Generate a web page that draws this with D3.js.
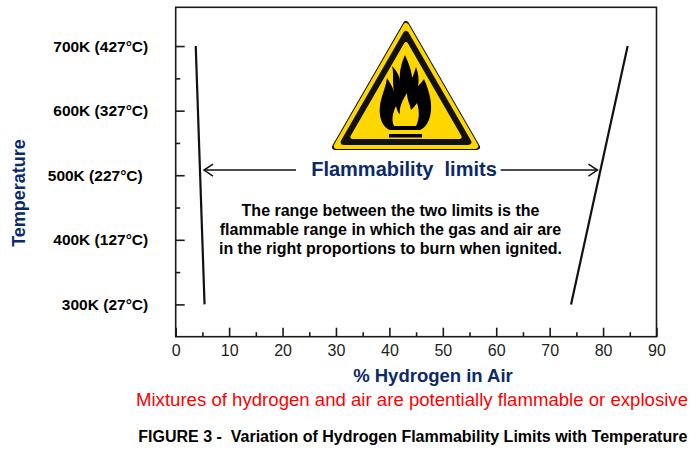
<!DOCTYPE html>
<html>
<head>
<meta charset="utf-8">
<script src="https://cdn.jsdelivr.net/npm/d3@7/dist/d3.min.js"></script>
<style>
  html, body { margin: 0; padding: 0; background: #fff; }
  svg { display: block; font-family: "Liberation Sans", Arial, sans-serif; }
</style>
</head>
<body>
<svg id="chart" width="700" height="472"></svg>
<script>
// ---- data ----
const tempsK = [300, 700];
const lowerLimitPct = [5.4, 3.75];
const upperLimitPct = [74.0, 84.6];
const xTickValues = [0, 10, 20, 30, 40, 50, 60, 70, 80, 90];
const xMinorTickValues = [5, 15, 25, 35, 45, 55, 65, 75, 85];
const yTickValues = [300, 400, 500, 600, 700];
const yMinorTickValues = [350, 450, 550, 650];
const yTickLabels = ["300K (27°C)", "400K (127°C)", "500K (227°C)", "600K (327°C)", "700K (427°C)"];
const arrowTempK = 508;
const titleText = "Flammability\u00A0\u00A0limits";
const noteLines = [
  "The range between the two limits is the",
  "flammable range in which the gas and air are",
  "in the right proportions to burn when ignited."
];
const xAxisTitle = "% Hydrogen in Air";
const yAxisTitle = "Temperature";
const warningText = "Mixtures of hydrogen and air are potentially flammable or explosive";
const captionText = "FIGURE 3 -\u00A0\u00A0Variation of Hydrogen Flammability Limits with Temperature";

(function () {
// ---- layout ----
const svg = d3.select("#chart");
const navy = "#0c2a6a";
const pl = 175.7, pr = 656.5, pt = 7.3, pb = 336.7;
const x = d3.scaleLinear().domain([0, 90]).range([pl, pr]);
const y = d3.scaleLinear().domain([250, 760]).range([pb, pt]);

// frame
svg.append("rect")
  .attr("x", pl).attr("y", pt)
  .attr("width", pr - pl).attr("height", pb - pt)
  .attr("fill", "none").attr("stroke", "#1a1a1a").attr("stroke-width", 1.6);

// x axis
const gx = svg.append("g").attr("transform", `translate(0,${pb})`)
  .call(d3.axisBottom(x).tickValues(xTickValues).tickSize(-9).tickPadding(8).tickFormat(d3.format("d")));
gx.select(".domain").remove();
gx.selectAll(".tick line").attr("stroke", "#1a1a1a").attr("stroke-width", 1.6);
gx.selectAll(".tick text").attr("font-size", 16).attr("fill", "#222")
  .attr("font-family", "Liberation Sans, Arial, sans-serif");
const gxm = svg.append("g").attr("transform", `translate(0,${pb})`)
  .call(d3.axisBottom(x).tickValues(xMinorTickValues).tickSize(-4.5).tickFormat(""));
gxm.select(".domain").remove();
gxm.selectAll(".tick line").attr("stroke", "#1a1a1a").attr("stroke-width", 1.6);

// y axis
const gy = svg.append("g").attr("transform", `translate(${pl},0)`)
  .call(d3.axisLeft(y).tickValues(yTickValues).tickSize(-9).tickPadding(27.5)
    .tickFormat((d, i) => yTickLabels[i]));
gy.select(".domain").remove();
gy.selectAll(".tick line").attr("stroke", "#1a1a1a").attr("stroke-width", 1.6);
gy.selectAll(".tick text").attr("font-size", 15.5).attr("font-weight", "bold").attr("fill", "#000")
  .attr("font-family", "Liberation Sans, Arial, sans-serif")
  .attr("dx", d => d === 500 ? -5.5 : 0);
const gym = svg.append("g").attr("transform", `translate(${pl},0)`)
  .call(d3.axisLeft(y).tickValues(yMinorTickValues).tickSize(-4.5).tickFormat(""));
gym.select(".domain").remove();
gym.selectAll(".tick line").attr("stroke", "#1a1a1a").attr("stroke-width", 1.6);

// limit lines
const line = d3.line().x(d => x(d[0])).y(d => y(d[1]));
const lowerPts = tempsK.map((t, i) => [lowerLimitPct[i], t]);
const upperPts = tempsK.map((t, i) => [upperLimitPct[i], t]);
[lowerPts, upperPts].forEach(pts => {
  svg.append("path").datum(pts).attr("d", line)
    .attr("fill", "none").attr("stroke", "#111").attr("stroke-width", 2.2);
});

// arrows
const interp = (vals, t) => vals[0] + (t - tempsK[0]) / (tempsK[1] - tempsK[0]) * (vals[1] - vals[0]);
const ay = y(arrowTempK);
const leftTip = x(interp(lowerLimitPct, arrowTempK)) + 4;
const rightTip = x(interp(upperLimitPct, arrowTempK)) - 3;
const arrowG = svg.append("g").attr("stroke", "#111").attr("stroke-width", 1.5).attr("fill", "none");
arrowG.append("line").attr("x1", leftTip).attr("x2", 296).attr("y1", ay).attr("y2", ay);
arrowG.append("path").attr("d", `M${leftTip + 9},${ay - 6}L${leftTip},${ay}L${leftTip + 9},${ay + 6}`);
arrowG.append("line").attr("x1", 500.7).attr("x2", rightTip).attr("y1", ay).attr("y2", ay);
arrowG.append("path").attr("d", `M${rightTip - 9},${ay - 6}L${rightTip},${ay}L${rightTip - 9},${ay + 6}`);

// warning sign
function tri(cx, cy, r) {
  const s = r * Math.sqrt(3);
  return `M${cx},${cy - 2 * r}L${cx + s},${cy + r}L${cx - s},${cy + r}Z`;
}
const signCx = 406, signCy = 106;
const yellow = "#ffd700";
[[41, 6, "#111"], [40, 6, yellow], [36, 6, "#111"], [31, 4, yellow]].forEach(([r, sw, c]) => {
  svg.append("path").attr("d", tri(signCx, signCy, r))
    .attr("fill", c).attr("stroke", c).attr("stroke-width", sw).attr("stroke-linejoin", "round");
});
const flame = svg.append("g").attr("transform", "translate(405,130)");
flame.append("path").attr("fill", "#000").attr("d",
  "M-15,0 C-25,-4 -27,-18 -24,-30 C-22,-38 -19,-44 -18,-52 C-14,-46 -12,-42 -11,-38 " +
  "C-13,-48 -11,-58 -13,-64 C-7,-58 -5,-52 -5,-48 C-6,-60 -3,-68 0,-75 " +
  "C4,-66 7,-58 7,-52 C9,-56 10,-60 11,-63 C14,-55 14,-48 13,-44 " +
  "C15,-46 17,-48 19,-51 C23,-42 27,-30 26,-20 C25,-8 20,-2 15,0 Z");
flame.append("path").attr("fill", yellow).attr("d",
  "M-11,-4 C-14,-10 -12,-18 -9,-24 C-8,-20 -7,-17 -5,-16 C-6,-24 -2,-30 2,-37 " +
  "C2,-30 5,-26 6,-20 C8,-22 10,-24 12,-27 C15,-18 14,-10 11,-4 Z");
flame.append("rect").attr("x", -16).attr("y", 4).attr("width", 33).attr("height", 3.5).attr("fill", "#000");

// texts
svg.append("text").attr("x", 404).attr("y", 176).attr("text-anchor", "middle")
  .attr("font-size", 20).attr("font-weight", "bold").attr("fill", navy).text(titleText);
svg.append("g").selectAll("text").data(noteLines).join("text")
  .attr("x", 390.5).attr("y", (d, i) => 216 + i * 19).attr("text-anchor", "middle")
  .attr("font-size", 16).attr("font-weight", "bold").attr("fill", "#000").text(d => d);
svg.append("text").attr("x", 433).attr("y", 382).attr("text-anchor", "middle")
  .attr("font-size", 18.5).attr("font-weight", "bold").attr("fill", navy).text(xAxisTitle);
svg.append("text").attr("transform", "translate(25,193) rotate(-90)").attr("text-anchor", "middle")
  .attr("font-size", 18).attr("font-weight", "bold").attr("fill", navy).text(yAxisTitle);
svg.append("text").attr("x", 136).attr("y", 406)
  .attr("font-size", 17.5).attr("fill", "#ff0000")
  .attr("textLength", 552).attr("lengthAdjust", "spacingAndGlyphs").text(warningText);
svg.append("text").attr("x", 138.3).attr("y", 441.7)
  .attr("font-size", 16).attr("font-weight", "bold").attr("fill", "#000")
  .attr("textLength", 549).attr("lengthAdjust", "spacingAndGlyphs").text(captionText);
})();
</script>
</body>
</html>
